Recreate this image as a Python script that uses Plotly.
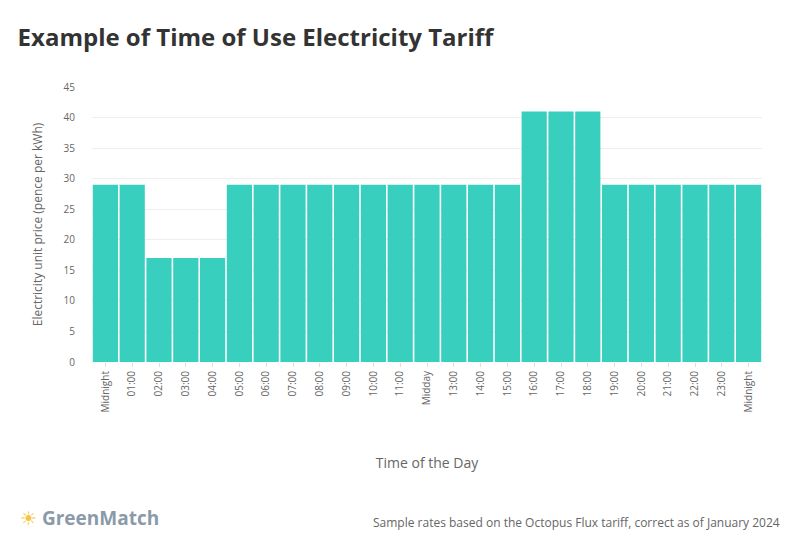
import plotly.graph_objects as go

# hourly unit rates (pence per kWh), 00:00 through 24:00
hours = [f"{h:02d}:00" for h in range(25)]
hour_labels = ["Midnight"] + [f"{h:02d}:00" for h in range(1, 12)] + ["Midday"] + \
    [f"{h:02d}:00" for h in range(13, 24)] + ["Midnight"]
prices = [29, 29, 17, 17, 17, 29, 29, 29, 29, 29, 29, 29, 29,
          29, 29, 29, 41, 41, 41, 29, 29, 29, 29, 29, 29]
y_ticks = [0, 5, 10, 15, 20, 25, 30, 35, 40, 45]

fig = go.Figure()
fig.add_trace(go.Bar(
    x=hours, y=prices,
    marker=dict(color="#38cfbf", line=dict(width=0)),
    hovertemplate="%{x}: %{y}p/kWh<extra></extra>",
))

fig.update_layout(
    width=797, height=540,
    margin=dict(l=84, r=43, t=79, b=186),
    paper_bgcolor="white", plot_bgcolor="white",
    font=dict(family="Open Sans", color="#555555"),
    bargap=0.06,
    showlegend=False,
    title=dict(text="<b>Example of Time of Use Electricity Tariff</b>",
               x=0.012, xanchor="left", y=0.945, yanchor="middle",
               font=dict(size=24, color="#333333")),
)

fig.update_xaxes(
    tickmode="array", tickvals=hours, ticktext=hour_labels,
    tickangle=-90, tickfont=dict(size=10, color="#666666"),
    ticks="outside", ticklen=4, tickcolor="#dddddd",
    showgrid=False, showline=False,
    title=dict(text="Time of the Day", font=dict(size=14, color="#666666"), standoff=46),
)
fig.update_yaxes(
    range=[0, 45], tickvals=y_ticks,
    tickfont=dict(size=10, color="#666666"), ticklabelstandoff=16,
    gridcolor="#eeeeee", zeroline=False, showline=False,
    title=dict(text="Electricity unit price (pence per kWh)",
               font=dict(size=12, color="#666666"), standoff=18),
)

# footer: logo and source note
fig.add_annotation(xref="paper", yref="paper", x=-0.11, y=-0.62, xanchor="left",
                   text="<span style='color:#f5c542'>☀</span> <b>GreenMatch</b>",
                   showarrow=False, font=dict(size=19, color="#8a9aa8"))
fig.add_annotation(xref="paper", yref="paper", x=1.03, y=-0.62, xanchor="right",
                   text="Sample rates based on the Octopus Flux tariff, correct as of January 2024",
                   showarrow=False, font=dict(size=12, color="#666666"))

fig.write_html("out.html")
